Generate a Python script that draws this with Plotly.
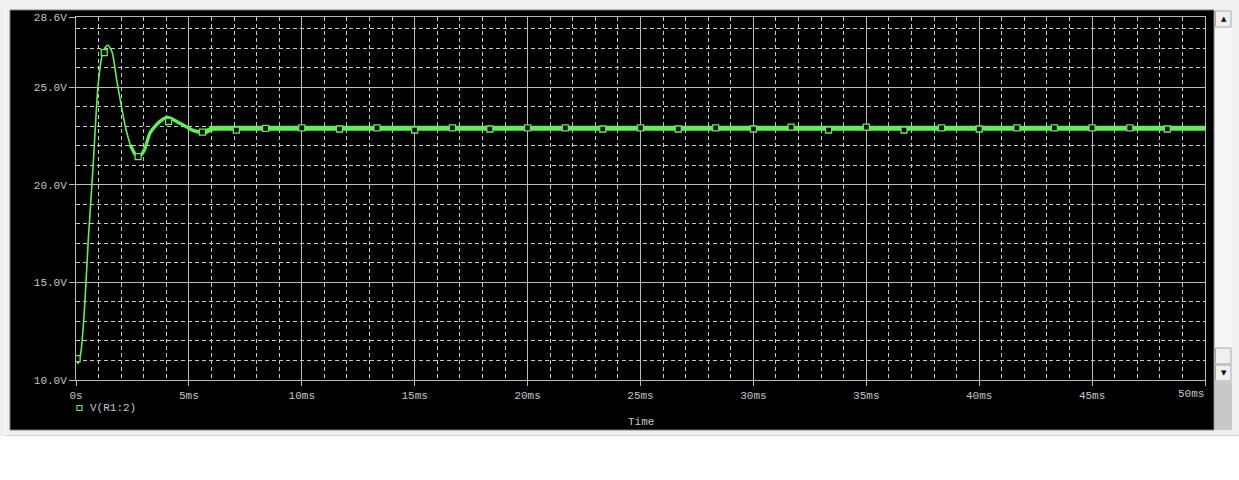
import plotly.graph_objects as go

# V(R1:2) transient, time in ms, volts
t_rise = [0, 0.1, 0.2, 0.27, 0.4, 0.55, 0.75, 0.97, 1.15, 1.3, 1.42, 1.6, 1.8, 2.0, 2.2, 2.4]
v_rise = [11.1, 10.85, 11.3, 12.0, 14.1, 17.3, 20.8, 25.0, 26.6, 27.05, 27.15, 26.8, 25.4, 24.1, 22.9, 22.05]

t_ring = [2.4, 2.6, 2.75, 2.9, 3.05, 3.28, 3.5, 3.72, 3.9, 4.07, 4.3, 4.6, 4.9, 5.15, 5.4, 5.7]
v_ring = [22.05, 21.6, 21.45, 21.55, 21.85, 22.67, 23.0, 23.25, 23.4, 23.45, 23.35, 23.15, 22.97, 22.8, 22.72, 22.7]

t_steady = [5.7, 6.07, 7.0, 8.0, 10.0, 15.0, 20.0, 25.0, 30.0, 35.0, 40.0, 45.0, 50.0]
v_steady = [22.7, 22.9, 22.9, 22.9, 22.9, 22.9, 22.9, 22.9, 22.9, 22.9, 22.9, 22.9, 22.9]

# probe markers drawn by the simulator
mark_t = [0.05, 1.25, 2.75, 4.1, 5.6, 7.1, 8.4, 10.0, 11.67, 13.33, 15.0, 16.67, 18.33,
          20.0, 21.67, 23.33, 25.0, 26.67, 28.33, 30.0, 31.67, 33.33, 35.0, 36.67,
          38.33, 40.0, 41.67, 43.33, 45.0, 46.67, 48.33]
mark_v = [11.1, 26.77, 21.45, 23.25, 22.7, 22.8, 22.89, 22.92, 22.86, 22.92, 22.81, 22.92, 22.86,
          22.92, 22.92, 22.86, 22.92, 22.86, 22.92, 22.86, 22.96, 22.81, 22.96, 22.81,
          22.92, 22.86, 22.92, 22.92, 22.92, 22.92, 22.86]

x_ticks = [0, 5, 10, 15, 20, 25, 30, 35, 40, 45, 50]
x_labels = ["0s", "5ms", "10ms", "15ms", "20ms", "25ms", "30ms", "35ms", "40ms", "45ms", ""]
y_ticks = [10, 15, 20, 25, 28.6]
y_labels = ["10.0V", "15.0V", "20.0V", "25.0V", "28.6V"]

GREEN = "#62ee58"
TXT = "#c4c4c4"
MONO = "Liberation Mono, DejaVu Sans Mono, monospace"

W, H = 1239, 480
L, R, T, B = 76, 1205, 17, 380


# pixel -> paper coords helpers
def px(x):
    return (x - L) / (R - L)


def py(y):
    return (B - y) / (B - T)


fig = go.Figure()
fig.add_trace(go.Scatter(x=t_rise, y=v_rise, mode="lines",
                         line=dict(color=GREEN, width=1.6, shape="spline", smoothing=0.6),
                         showlegend=False, hoverinfo="skip"))
fig.add_trace(go.Scatter(x=t_ring, y=v_ring, mode="lines",
                         line=dict(color=GREEN, width=3.4, shape="spline", smoothing=0.6),
                         showlegend=False, hoverinfo="skip"))
fig.add_trace(go.Scatter(x=t_steady, y=v_steady, mode="lines", line=dict(color=GREEN, width=5),
                         showlegend=False, hoverinfo="skip"))
fig.add_trace(go.Scatter(x=mark_t, y=mark_v, mode="markers",
                         marker=dict(symbol="square", size=6, color="black",
                                     line=dict(color=GREEN, width=1.3)),
                         showlegend=False, hoverinfo="skip"))

shapes = [
    # window background and frame
    dict(type="rect", xref="paper", yref="paper", x0=px(0), x1=px(W), y0=py(436), y1=py(0),
         fillcolor="#f0f0f0", line=dict(width=0), layer="below"),
    dict(type="line", xref="paper", yref="paper", x0=px(5.5), x1=px(5.5), y0=py(434), y1=py(6),
         line=dict(color="white", width=1), layer="below"),
    dict(type="line", xref="paper", yref="paper", x0=px(6), x1=px(W), y0=py(435.5), y1=py(435.5),
         line=dict(color="#d4d4d4", width=1), layer="below"),
    dict(type="rect", xref="paper", yref="paper", x0=px(10), x1=px(1214), y0=py(430), y1=py(10),
         fillcolor="black", line=dict(color="#7a7a7a", width=1), layer="below"),
    # scrollbar
    dict(type="rect", xref="paper", yref="paper", x0=px(1215), x1=px(1232), y0=py(382), y1=py(10),
         fillcolor="#f6f6f6", line=dict(width=0), layer="below"),
    dict(type="rect", xref="paper", yref="paper", x0=px(1215), x1=px(1232), y0=py(430), y1=py(382),
         fillcolor="#c8c8c8", line=dict(width=0), layer="below"),
    dict(type="rect", xref="paper", yref="paper", x0=px(1215.5), x1=px(1231), y0=py(27), y1=py(11),
         fillcolor="#f0f0f0", line=dict(color="#a8a8a8", width=1), layer="below"),
    dict(type="rect", xref="paper", yref="paper", x0=px(1215.5), x1=px(1231), y0=py(364), y1=py(348),
         fillcolor="#f0f0f0", line=dict(color="#a8a8a8", width=1), layer="below"),
    dict(type="rect", xref="paper", yref="paper", x0=px(1215.5), x1=px(1231), y0=py(381), y1=py(365),
         fillcolor="#f0f0f0", line=dict(color="#a8a8a8", width=1), layer="below"),
    # legend marker
    dict(type="rect", xref="paper", yref="paper", x0=px(77), x1=px(82), y0=py(410.5), y1=py(405.5),
         fillcolor="black", line=dict(color=GREEN, width=1.2)),
]

annotations = [
    dict(text="V(R1:2)", x=px(88), y=py(408), xref="paper", yref="paper", xanchor="left",
         yanchor="middle", showarrow=False, font=dict(family=MONO, size=11, color=TXT)),
    dict(text="Time", x=0.5, y=py(422), xref="paper", yref="paper", xanchor="center",
         yanchor="middle", showarrow=False, font=dict(family=MONO, size=11, color=TXT)),
    # last x tick label sits flush with the plot's right edge
    dict(text="50ms", x=px(1206), y=py(394), xref="paper", yref="paper", xanchor="right",
         yanchor="middle", showarrow=False, font=dict(family=MONO, size=11, color=TXT)),
    dict(text="▲", x=px(1223.5), y=py(19), xref="paper", yref="paper", xanchor="center",
         yanchor="middle", showarrow=False, font=dict(family="DejaVu Sans", size=7, color="black")),
    dict(text="▼", x=px(1223.5), y=py(373), xref="paper", yref="paper", xanchor="center",
         yanchor="middle", showarrow=False, font=dict(family="DejaVu Sans", size=7, color="black")),
]

fig.update_layout(
    width=W, height=H,
    margin=dict(l=L, r=W - R, t=T, b=H - B),
    paper_bgcolor="white",
    plot_bgcolor="black",
    shapes=shapes,
    annotations=annotations,
    font=dict(family=MONO, size=11, color=TXT),
)

fig.update_xaxes(
    range=[0, 50], tickmode="array", tickvals=x_ticks, ticktext=x_labels,
    ticks="outside", ticklen=5, tickcolor="#b8b8b8", tickfont=dict(family=MONO, size=11, color=TXT),
    showgrid=True, gridcolor="#bcbcbc", gridwidth=1, zeroline=False,
    showline=True, mirror=True, linecolor="#b8b8b8", linewidth=1,
    minor=dict(tickmode="linear", tick0=0, dtick=1, showgrid=True, gridcolor="#c8c8c8",
               griddash="4px,3px", gridwidth=1),
)
fig.update_yaxes(
    range=[10, 28.6], tickmode="array", tickvals=y_ticks, ticktext=y_labels,
    ticks="outside", ticklen=6, tickcolor="#b8b8b8", tickfont=dict(family=MONO, size=11, color=TXT),
    showgrid=True, gridcolor="#bcbcbc", gridwidth=1, zeroline=False,
    showline=True, mirror=True, linecolor="#b8b8b8", linewidth=1,
    minor=dict(tickmode="linear", tick0=10, dtick=1, showgrid=True, gridcolor="#c8c8c8",
               griddash="4px,3px", gridwidth=1),
)

# drop the browser's default body margin so the figure sits at the page origin
fig.write_html("out.html", config={"displayModeBar": False},
               post_script="document.body.style.margin='0';")
